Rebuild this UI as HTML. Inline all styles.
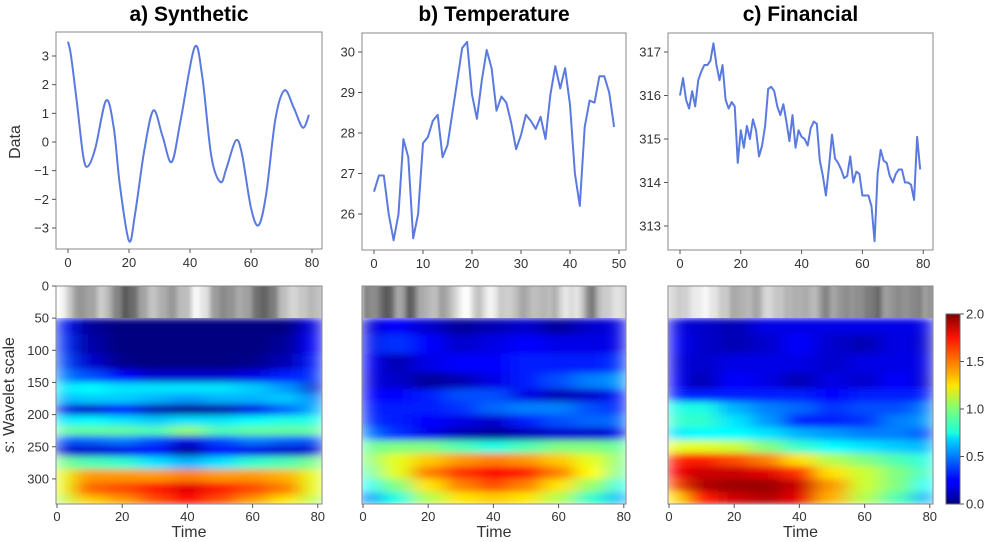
<!DOCTYPE html>
<html><head><meta charset="utf-8">
<style>
html,body{margin:0;padding:0;background:#fff;}
svg{display:block;font-family:"Liberation Sans",sans-serif;}
.tick{font-size:13px;fill:#333;}
</style></head>
<body>
<svg id="fig" width="998" height="542" viewBox="0 0 998 542" xmlns="http://www.w3.org/2000/svg">
<defs>
<linearGradient id="jetgrad" x1="0" y1="1" x2="0" y2="0">
<stop offset="0" stop-color="#00007f"/><stop offset="0.11" stop-color="#0000ff"/><stop offset="0.125" stop-color="#0000ff"/>
<stop offset="0.34" stop-color="#00d4ff"/><stop offset="0.375" stop-color="#1cffdb"/><stop offset="0.5" stop-color="#7dff7a"/>
<stop offset="0.625" stop-color="#ffe600"/><stop offset="0.66" stop-color="#ffc400"/><stop offset="0.875" stop-color="#ff1300"/><stop offset="1" stop-color="#7f0000"/>
</linearGradient>
</defs>
<g id="root"></g>
</svg>
<script>
// ---- data ----
const synthT = [0,1,3,5,6.5,9,12.5,15,17,20,22,25,28,31,34,37,41.5,44,47,50,52,55,57,60,62.5,65,68,71,74,77,79];
const synthV = [3.5,3.0,1.3,-0.5,-0.85,-0.2,1.45,0.5,-1.5,-3.45,-2.5,-0.3,1.1,0.2,-0.7,0.8,3.3,2.3,-0.5,-1.4,-0.9,0.05,-0.4,-2.3,-2.9,-1.8,0.8,1.8,1.2,0.5,0.95];
const tempV = [26.55,26.95,26.95,26.0,25.35,26.0,27.85,27.4,25.4,26.0,27.75,27.9,28.3,28.45,27.4,27.7,28.5,29.3,30.1,30.25,28.95,28.35,29.3,30.05,29.6,28.55,28.9,28.75,28.25,27.6,27.95,28.45,28.3,28.1,28.4,27.85,28.95,29.65,29.1,29.6,28.7,27.0,26.2,28.15,28.8,28.75,29.4,29.4,29.0,28.15];
const finV = [316.0,316.4,315.9,315.7,316.1,315.75,316.35,316.55,316.7,316.7,316.8,317.2,316.7,316.35,316.7,315.9,315.7,315.85,315.75,314.45,315.2,314.8,315.3,315.0,315.45,315.2,314.6,314.85,315.3,316.15,316.2,316.1,315.75,315.55,315.8,315.4,314.95,315.55,314.8,315.2,315.05,315.0,314.85,315.25,315.4,315.35,314.5,314.15,313.7,314.35,315.1,314.55,314.45,314.3,314.1,314.15,314.6,314.0,314.25,314.2,313.7,313.7,313.7,313.45,312.65,314.2,314.75,314.5,314.45,314.15,314.0,314.2,314.3,314.3,314.0,314.0,313.95,313.6,315.05,314.3];
const heatCols = [0,10,20,30,40,50,60,70,80];
const heatRowsA = [60,90,120,140,160,175,192,210,225,240,255,275,295,315,335];
const heatA = [
[0.3,0.05,0,0,0,0,0,0,0.2],
[0.35,0.08,0,0,0,0,0,0.05,0.25],
[0.4,0.15,0.02,0,0,0,0.02,0.1,0.3],
[0.5,0.4,0.25,0.15,0.15,0.15,0.2,0.3,0.35],
[0.7,0.75,0.7,0.7,0.7,0.7,0.65,0.55,0.15],
[0.6,0.65,0.65,0.6,0.55,0.6,0.6,0.65,0.5],
[0.2,0.15,0.25,0.1,0.05,0.08,0.2,0.45,0.6],
[0.7,0.75,0.7,0.65,0.7,0.7,0.75,0.8,0.8],
[0.95,0.95,0.95,0.9,1.05,0.9,0.95,0.95,0.95],
[0.4,0.45,0.5,0.4,0.2,0.4,0.5,0.45,0.4],
[0.15,0.15,0.2,0.25,0.05,0.25,0.2,0.15,0.15],
[1.0,0.9,0.85,0.7,0.6,0.7,0.85,0.9,1.0],
[1.2,1.45,1.45,1.45,1.5,1.45,1.45,1.4,1.2],
[1.2,1.55,1.6,1.7,1.8,1.7,1.6,1.5,1.2],
[1.1,1.35,1.45,1.6,1.75,1.6,1.45,1.3,1.1]];
const heatRowsBC = [60,90,120,150,170,190,210,230,250,270,290,310,330];
const heatB = [
[0.15,0.25,0.15,0.05,0.1,0.15,0.05,0.15,0.2],
[0.2,0.35,0.25,0.15,0.2,0.25,0.2,0.2,0.2],
[0.25,0.1,0.2,0.25,0.25,0.3,0.3,0.3,0.35],
[0.2,0.15,0.05,0.1,0.2,0.3,0.4,0.5,0.55],
[0.25,0.25,0.3,0.4,0.4,0.2,0.1,0.15,0.3],
[0.3,0.3,0.3,0.35,0.45,0.5,0.5,0.4,0.3],
[0.35,0.3,0.25,0.2,0.15,0.3,0.4,0.45,0.45],
[0.5,0.35,0.2,0.1,0.05,0.1,0.15,0.15,0.2],
[0.95,1.0,1.0,0.9,0.8,0.9,1.0,1.0,0.95],
[1.0,1.2,1.35,1.45,1.5,1.45,1.35,1.2,1.0],
[0.9,1.2,1.5,1.65,1.75,1.7,1.5,1.25,0.95],
[0.75,1.0,1.3,1.5,1.6,1.5,1.3,1.05,0.8],
[0.5,0.8,1.1,1.3,1.35,1.3,1.1,0.85,0.6]];
const heatC = [
[0.2,0.15,0.1,0.2,0.2,0.2,0.2,0.2,0.2],
[0.25,0.15,0.1,0.15,0.25,0.15,0.1,0.2,0.15],
[0.2,0.15,0.2,0.2,0.2,0.15,0.2,0.2,0.2],
[0.25,0.1,0.25,0.2,0.1,0.2,0.15,0.25,0.15],
[0.3,0.3,0.3,0.3,0.3,0.25,0.3,0.3,0.3],
[0.8,0.8,0.6,0.5,0.45,0.35,0.4,0.4,0.5],
[0.85,0.85,0.7,0.55,0.3,0.3,0.35,0.5,0.55],
[0.7,0.75,0.75,0.7,0.6,0.55,0.5,0.5,0.4],
[1.2,1.2,1.15,1.0,0.85,0.75,0.7,0.65,0.6],
[1.7,1.7,1.6,1.5,1.3,1.1,1.0,0.9,0.8],
[1.75,1.85,1.85,1.8,1.65,1.3,1.15,1.0,0.85],
[1.6,1.9,1.95,1.95,1.85,1.45,1.15,1.0,0.75],
[1.3,1.7,1.85,1.9,1.8,1.4,1.1,0.9,0.6]];
const ticksA = [-3,-2,-1,0,1,2,3];
const ticksB = [26,27,28,29,30];
const ticksC = [313,314,315,316,317];
const ticksScale = [0,50,100,150,200,250,300];
const ticksTime = [0,20,40,60,80];
const ticksCbar = [0.0,0.5,1.0,1.5,2.0];

// ---- helpers ----
const NS = "http://www.w3.org/2000/svg";
const root = document.getElementById('root');
function mk(tag, attrs, parent){const e=document.createElementNS(NS,tag);for(const k in attrs)e.setAttribute(k,attrs[k]);(parent||root).appendChild(e);return e;}
function txt(s, attrs, parent){const e=mk('text',attrs,parent);e.textContent=s;return e;}
function clamp(v){return Math.max(0,Math.min(1,v));}
function jet(v){const t=clamp(v/2);const r=clamp(1.5-Math.abs(4*t-3)),g=clamp(1.5-Math.abs(4*t-2)),b=clamp(1.5-Math.abs(4*t-1));return `rgb(${Math.round(r*255)},${Math.round(g*255)},${Math.round(b*255)})`;}

const panels = [
 {name:'synthetic',x0:56,x1:322,y0:32,y1:249,xs:t=>68+t*3.05,ys:v=>142-v*28.67,ticks:ticksA,xt:[0,20,40,60,80],fmt:v=>v<0?'\u2212'+(-v):String(v)},
 {name:'temperature',x0:362,x1:626,y0:33,y1:250,xs:t=>374+t*4.9,ys:v=>52+(30-v)*40.5,ticks:ticksB,xt:[0,10,20,30,40,50],fmt:String},
 {name:'financial',x0:668,x1:933,y0:33,y1:250,xs:t=>680+t*3.04,ys:v=>52+(317-v)*43.5,ticks:ticksC,xt:[0,20,40,60,80],fmt:String}];
const titles=['a) Synthetic','b) Temperature','c) Financial'];
const series=[[synthT,synthV],[tempV.map((_,i)=>i),tempV],[finV.map((_,i)=>i),finV]];
const heats=[[heatRowsA,heatA],[heatRowsBC,heatB],[heatRowsBC,heatC]];

panels.forEach((p,i)=>{
  const g=mk('g',{});
  
  
  const tt=txt(titles[i],{x:(p.x0+p.x1)/2,y:21,'text-anchor':'middle','font-size':'21','font-weight':'bold',fill:'#000'},g);
  
  
  mk('rect',{x:p.x0,y:p.y0,width:p.x1-p.x0,height:p.y1-p.y0,fill:'#fff',stroke:'#888','stroke-width':1},g);
  p.ticks.forEach(v=>{const y=p.ys(v);mk('line',{x1:p.x0-4,x2:p.x0,y1:y,y2:y,stroke:'#555'},g);
    const t=txt(p.fmt(v),{x:p.x0-7,y:y+4.5,'text-anchor':'end',class:'tick'},g);
    });
  p.xt.forEach(v=>{const x=p.xs(v);mk('line',{x1:x,x2:x,y1:p.y1,y2:p.y1+4,stroke:'#555'},g);
    const t=txt(String(v),{x:x,y:p.y1+18,'text-anchor':'middle',class:'tick'},g);
    });
  const [T,V]=series[i];
  const pts=T.map((t,k)=>[p.xs(t),p.ys(V[k])]);
  let d;
  if(i===0){ d='M'+pts[0][0]+','+pts[0][1];
    for(let k=0;k<pts.length-1;k++){const p0=pts[Math.max(0,k-1)],p1=pts[k],p2=pts[k+1],p3=pts[Math.min(pts.length-1,k+2)];
      d+=` C${p1[0]+(p2[0]-p0[0])/6},${p1[1]+(p2[1]-p0[1])/6} ${p2[0]-(p3[0]-p1[0])/6},${p2[1]-(p3[1]-p1[1])/6} ${p2[0]},${p2[1]}`;}
  } else d='M'+pts.map(q=>q.join(',')).join(' L');
  const ln=mk('path',{d:d,fill:'none',stroke:'#5a7ae0','stroke-width':2,'stroke-linejoin':'round'},g);
  
  
});
const yl=txt('Data',{x:0,y:0,transform:'translate(20,142) rotate(-90)','text-anchor':'middle','font-size':'16',fill:'#333'});



// bottom panels
const B_Y0=286,B_Y1=504;
const sc=s=>B_Y0+s*0.643;
panels.forEach((p,i)=>{
  const x0=p.x0,x1=p.x1, xs=t=>x0+1+t*3.26;
  const g=mk('g',{});
  
  
  const fid='blur'+i;
  const f=mk('filter',{id:fid,x:x0,y:sc(50),width:x1-x0,height:B_Y1-sc(50),filterUnits:'userSpaceOnUse'},g);
  mk('feGaussianBlur',{stdDeviation:'10 3.5',edgeMode:'duplicate'},f);
  const fs=mk('filter',{id:'sb'+i,x:x0,y:B_Y0,width:x1-x0,height:sc(50)-B_Y0,filterUnits:'userSpaceOnUse'},g);
  mk('feGaussianBlur',{stdDeviation:'2.5 0',edgeMode:'duplicate'},fs);
  const [T,V]=series[i];
  const mn=Math.min(...V),mx=Math.max(...V);
  const sg=mk('g',{filter:`url(#sb${i})`},g);
  const n=T.length, tmax=81.5;
  for(let k=0;k<n;k++){
    const ta = i===1 ? k*tmax/(n-1) : T[k];
    const tb = k<n-1 ? (i===1 ? (k+1)*tmax/(n-1) : T[k+1]) : tmax;
    const gv=Math.round(85+170*(V[k]-mn)/(mx-mn));
    const r=mk('rect',{x:xs(ta)-0.5,y:B_Y0,width:Math.max(xs(tb)-xs(ta)+1,1),height:sc(50)-B_Y0,fill:`rgb(${gv},${gv},${gv})`},sg);
    
    
  }
  const [rows,M]=heats[i];
  const hg=mk('g',{filter:`url(#${fid})`},g);
  const yTop=sc(50),yBot=B_Y1;
  rows.forEach((s,r)=>{
    const ya = r===0?yTop:sc((rows[r-1]+s)/2);
    const yb = r===rows.length-1?yBot:sc((rows[r+1]+s)/2);
    heatCols.forEach((c,j)=>{
      const xa=j===0?x0:xs((heatCols[j-1]+c)/2);
      const xb=j===heatCols.length-1?x1:xs((heatCols[j+1]+c)/2);
      const cell=mk('rect',{x:xa,y:ya,width:xb-xa+0.5,height:yb-ya+0.5,fill:jet(M[r][j])},hg);
      
      
    });
  });
  mk('rect',{x:x0,y:B_Y0,width:x1-x0,height:B_Y1-B_Y0,fill:'none',stroke:'#888'},g);
  ticksTime.forEach(v=>{const x=xs(v);mk('line',{x1:x,x2:x,y1:B_Y1,y2:B_Y1+4,stroke:'#555'},g);
    const t=txt(String(v),{x:x,y:B_Y1+17,'text-anchor':'middle',class:'tick'},g);
    });
  const tl=txt('Time',{x:(x0+x1)/2,y:537,'text-anchor':'middle','font-size':'16',fill:'#333'},g);
  
  
  if(i===0){
    ticksScale.forEach(v=>{const y=sc(v);mk('line',{x1:x0-4,x2:x0,y1:y,y2:y,stroke:'#555'},g);
      const t=txt(String(v),{x:x0-7,y:y+4.5,'text-anchor':'end',class:'tick'},g);
      });
  }
});
const sl=mk('text',{x:0,y:0,transform:'translate(14,395) rotate(-90)','text-anchor':'middle','font-size':'16',fill:'#333'});
const sIt=mk('tspan',{'font-style':'italic'},sl);
sIt.textContent='s';
const sRest=mk('tspan',{},sl);
sRest.textContent=': Wavelet scale';



const cb=mk('g',{});


const CB_Y0=314,CB_Y1=504;
mk('rect',{x:946,y:CB_Y0,width:14,height:CB_Y1-CB_Y0,fill:'url(#jetgrad)',stroke:'#666'},cb);
ticksCbar.forEach(v=>{const y=CB_Y1-(v/2)*(CB_Y1-CB_Y0);mk('line',{x1:960,x2:964,y1:y,y2:y,stroke:'#555'},cb);
  const t=txt(v.toFixed(1),{x:966,y:y+4.5,class:'tick'},cb);
  });
</script>
</body></html>
